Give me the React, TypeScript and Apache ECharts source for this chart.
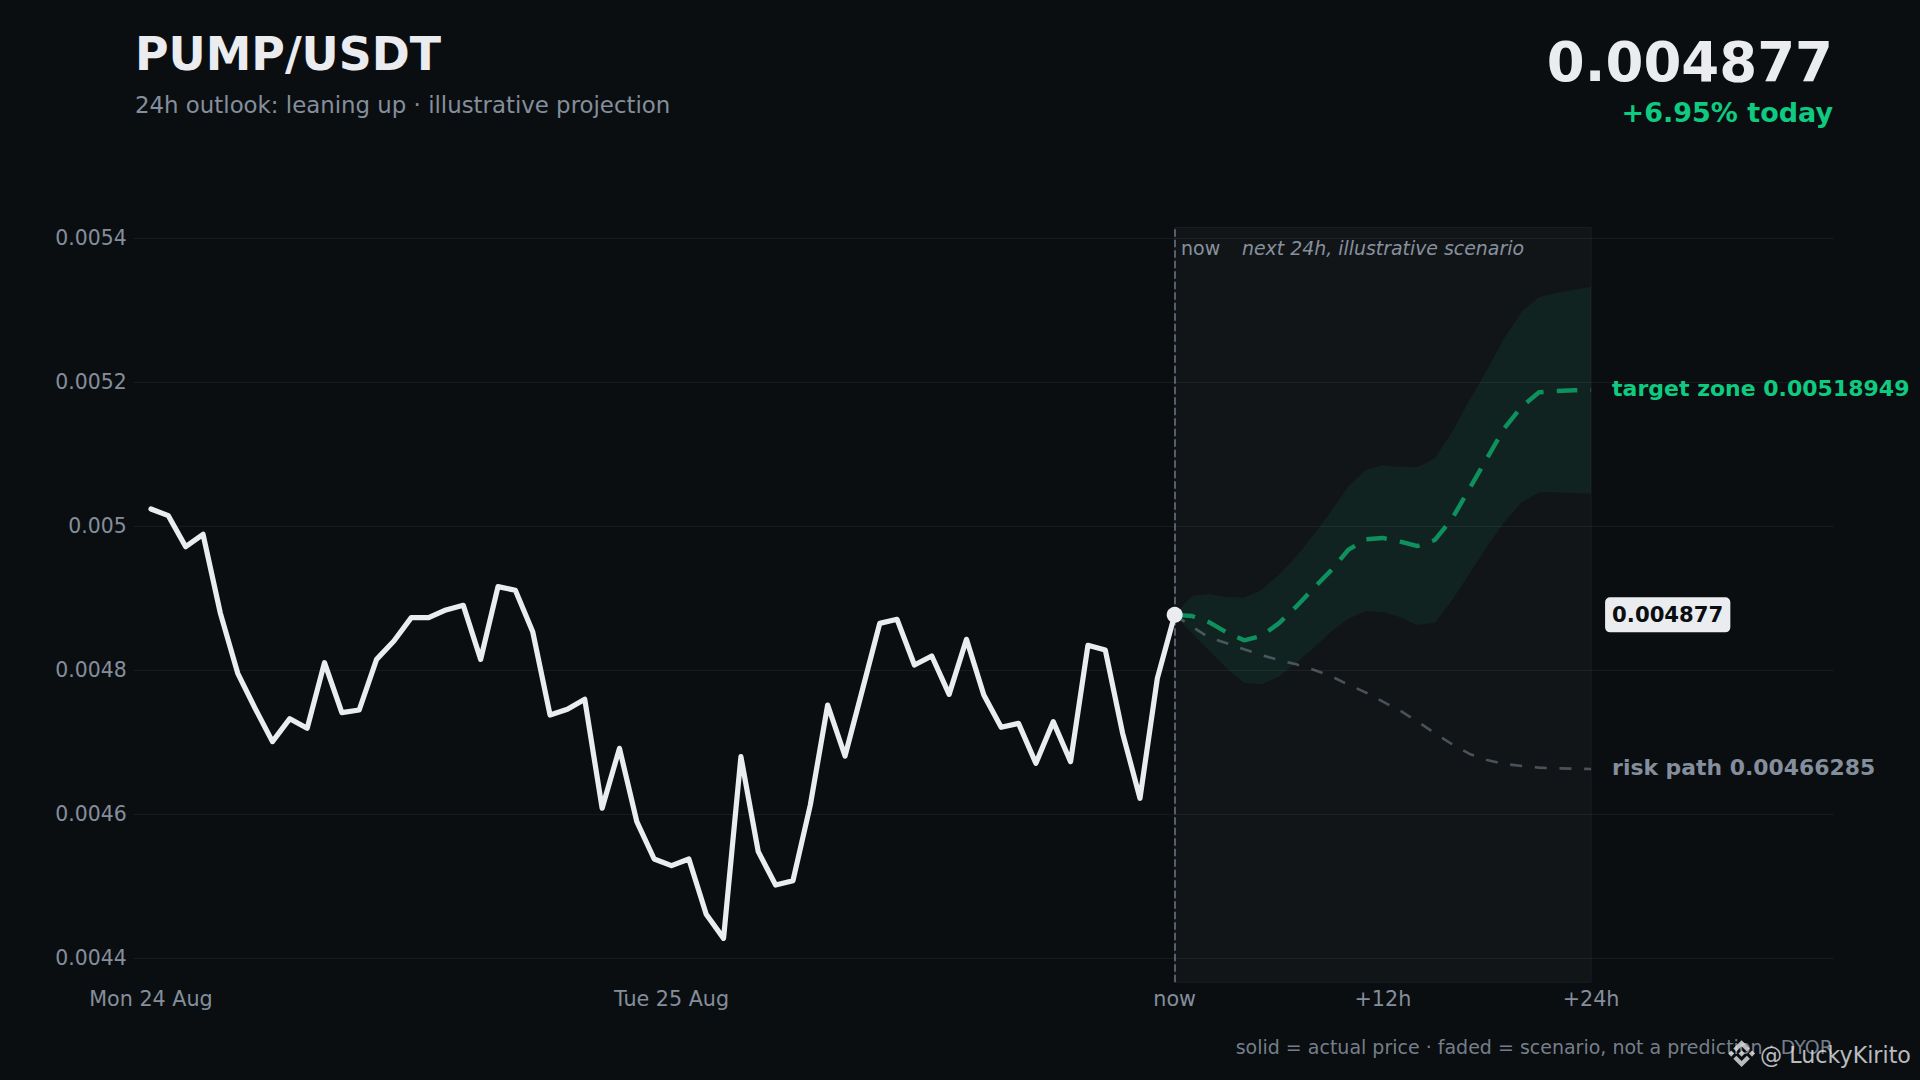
import React, { useEffect, useRef } from "react";
import * as echarts from "echarts";

const FONT = "'DejaVu Sans', sans-serif";
const BG = "#0b0e11";
const TEXT = "#eaecef";
const MUTED = "#848e9c";
const GREEN = "#0ecb81";

const history = [
  0.005024, 0.0050148, 0.0049717, 0.0049888, 0.0048791, 0.0047958, 0.0047472, 0.0047009, 0.0047328, 0.0047194,
  0.0048106, 0.0047412, 0.0047449, 0.0048152, 0.0048407, 0.0048731, 0.0048731, 0.0048838, 0.0048902, 0.0048152,
  0.0049162, 0.0049111, 0.0048537, 0.0047379, 0.0047458, 0.0047597, 0.0046085, 0.0046916, 0.0045898, 0.0045379,
  0.0045287, 0.0045379, 0.0044611, 0.0044277, 0.00468, 0.0045481, 0.0045018, 0.0045078, 0.0046129, 0.0047518,
  0.004681, 0.0047726, 0.0048652, 0.0048708, 0.0048074, 0.0048199, 0.0047666, 0.004843, 0.0047657, 0.0047208,
  0.0047263, 0.0046708, 0.0047287, 0.0046731, 0.0048347, 0.0048282, 0.0047125, 0.0046222, 0.0047888, 0.004877,
];
const bandUpper = [
  0.004877, 0.0049032, 0.004906, 0.0049014, 0.0049009, 0.0049115, 0.0049324, 0.0049578, 0.0049879, 0.0050203,
  0.0050551, 0.0050782, 0.0050847, 0.0050828, 0.0050824, 0.0050944, 0.0051314, 0.0051754, 0.0052171, 0.0052611,
  0.0052981, 0.005318, 0.005324, 0.0053282, 0.0053328,
];
const bandLower = [
  0.004877, 0.0048513, 0.0048268, 0.0048027, 0.0047828, 0.0047805, 0.0047912, 0.0048106, 0.0048305, 0.0048537,
  0.0048713, 0.0048824, 0.004881, 0.0048736, 0.0048629, 0.0048662, 0.0048976, 0.0049347, 0.0049717, 0.0050064,
  0.0050333, 0.0050472, 0.0050472, 0.0050463, 0.0050453,
];
const targetPath = [
  0.004877, 0.0048754, 0.0048666, 0.0048527, 0.0048416, 0.0048477, 0.0048652, 0.0048884, 0.0049138, 0.0049384,
  0.0049671, 0.0049819, 0.0049838, 0.0049787, 0.0049726, 0.004981, 0.0050111, 0.0050527, 0.0050944, 0.0051361,
  0.0051662, 0.0051861, 0.0051879, 0.0051889, 0.00518949,
];
const riskPath = [
  0.004877, 0.0048606, 0.0048453, 0.0048375, 0.0048291, 0.0048212, 0.0048143, 0.0048083, 0.0048009, 0.0047921,
  0.00478, 0.0047694, 0.0047564, 0.0047439, 0.0047287, 0.0047125, 0.0046972, 0.0046838, 0.0046754, 0.0046699,
  0.0046671, 0.0046648, 0.0046638, 0.0046634, 0.00466285,
];
const yTicks = [0.0044, 0.0046, 0.0048, 0.005, 0.0052, 0.0054];
const xTicks = [0, 30, 59, 71, 83];
const xTickLabels = ["Mon 24 Aug", "Tue 25 Aug", "now", "+12h", "+24h"];

const NOW = history.length - 1;
const END = NOW + targetPath.length - 1;
const Y_MIN = 0.00436667;
const Y_MAX = 0.00541528;
const fc = (a: number[]) => a.map((v, k) => [NOW + k, v]);

const BINANCE =
  "M38.73 53.2L63 28.93l24.28 24.28 14.12-14.12L63 0.69 24.6 39.09zM0.69 63l14.12-14.12L28.93 63 14.81 77.12zM38.73 72.8L63 97.07l24.28-24.28 14.13 14.11-38.41 38.41L24.6 86.91zM97.07 63l14.12-14.12L125.31 63l-14.12 14.12zM77.32 63L63 48.68 52.41 59.27l-1.22 1.22L48.68 63 63 77.32 77.32 63z";
echarts.graphic.registerShape("binanceLogo", echarts.graphic.extendPath(BINANCE as any, {} as any));

function txt(x: number, y: number, text: string, fontSize: number, fill: string, extra: any = {}) {
  return {
    type: "text",
    x,
    y,
    silent: true,
    style: { text, fontSize, fill, fontFamily: FONT, verticalAlign: "middle", ...extra },
  };
}

export default function App() {
  const ref = useRef<HTMLDivElement>(null);
  useEffect(() => {
    document.body.style.margin = "0";
    document.body.style.background = BG;
    const chart = echarts.init(ref.current!, null, { renderer: "svg" });
    chart.setOption({
      animation: false,
      backgroundColor: BG,
      textStyle: { fontFamily: FONT },
      grid: { left: 133.65, right: 86, top: 227.3, bottom: 97.7 },
      xAxis: {
        type: "value",
        min: -1,
        max: 97,
        axisLine: { show: false },
        axisTick: { show: false, customValues: xTicks },
        splitLine: { show: false },
        axisLabel: {
          customValues: xTicks,
          color: MUTED,
          fontSize: 20.7,
          fontFamily: FONT,
          margin: 6,
          hideOverlap: false,
          showMinLabel: true,
          showMaxLabel: true,
          formatter: (v: number) => xTickLabels[xTicks.indexOf(v)] ?? "",
        },
      },
      yAxis: {
        type: "value",
        min: Y_MIN,
        max: Y_MAX,
        axisLine: { show: false },
        axisTick: { show: false, customValues: yTicks },
        splitLine: { show: true, lineStyle: { color: "rgba(234,236,239,0.06)", width: 1 } },
        axisLabel: {
          customValues: yTicks,
          color: MUTED,
          fontSize: 20.4,
          fontFamily: FONT,
          margin: 7,
          padding: [4, 0, 0, 0],
          formatter: (v: number) => String(v),
        },
      },
      series: [
        {
          type: "custom",
          name: "band",
          data: bandUpper.map((v, k) => [NOW + k, bandLower[k], v]),
          encode: { x: 0, y: [1, 2] },
          clip: false,
          silent: true,
          z: 2,
          renderItem: (params: any, api: any) => {
            if (params.dataIndex !== 0) return null;
            const up = bandUpper.map((v, k) => api.coord([NOW + k, v]));
            const lo = bandLower.map((v, k) => api.coord([NOW + k, v])).reverse();
            return {
              type: "polygon",
              shape: { points: up.concat(lo) },
              style: { fill: GREEN, opacity: 0.08 },
            };
          },
          markArea: {
            silent: true,
            z: 1,
            itemStyle: { color: "rgba(234,236,239,0.035)", borderColor: "rgba(234,236,239,0.06)", borderWidth: 1 },
            data: [[{ xAxis: NOW, yAxis: Y_MIN }, { xAxis: END, yAxis: Y_MAX }]],
          },
          markLine: {
            silent: true,
            symbol: "none",
            label: { show: false },
            lineStyle: { color: "rgba(132,142,156,0.8)", width: 1.5, type: [7.5, 3] },
            data: [{ xAxis: NOW }],
          },
        },
        {
          type: "line",
          name: "risk path",
          data: fc(riskPath),
          symbol: "none",
          lineStyle: { color: MUTED, opacity: 0.5, width: 2.6, type: [12, 12.7] },
          z: 3,
          endLabel: {
            show: true,
            distance: 21,
            offset: [0, -2],
            color: MUTED,
            fontSize: 21.9,
            fontWeight: "bold",
            fontFamily: FONT,
            formatter: () => "risk path " + riskPath[riskPath.length - 1],
          },
        },
        {
          type: "line",
          name: "target zone",
          data: fc(targetPath),
          symbol: "none",
          lineStyle: { color: GREEN, opacity: 0.65, width: 4.4, type: [20.5, 13.3] },
          z: 4,
          endLabel: {
            show: true,
            distance: 21,
            offset: [0, -1],
            color: GREEN,
            fontSize: 22,
            fontWeight: "bold",
            fontFamily: FONT,
            formatter: () => "target zone " + targetPath[targetPath.length - 1],
          },
        },
        {
          type: "line",
          name: "price",
          data: history.map((v, i) => [i, v]),
          symbol: "none",
          lineStyle: { color: TEXT, width: 5.2, join: "round", cap: "round" },
          z: 5,
          markPoint: {
            silent: true,
            z: 6,
            data: [
              { coord: [NOW, history[NOW]], symbol: "circle", symbolSize: 16, itemStyle: { color: TEXT }, label: { show: false } },
              {
                coord: [END, history[NOW]],
                symbol: "circle",
                symbolSize: 0,
                label: {
                  show: true,
                  position: "right",
                  distance: 14,
                  formatter: String(history[NOW]),
                  color: BG,
                  fontSize: 21.2,
                  fontWeight: "bold",
                  fontFamily: FONT,
                  backgroundColor: TEXT,
                  borderRadius: 5,
                  padding: [7, 7, 7, 7],
                },
              },
            ],
          },
        },
      ],
      graphic: [
        txt(135, 54, "PUMP/USDT", 45.8, TEXT, { fontWeight: "bold" }),
        txt(135, 105, "24h outlook: leaning up · illustrative projection", 22.87, MUTED),
        txt(1833, 62, "0.004877", 54.5, TEXT, { fontWeight: "bold", textAlign: "right" }),
        txt(1833, 112, "+6.95% today", 27, GREEN, { fontWeight: "bold", textAlign: "right" }),
        txt(1181, 248, "now", 19, MUTED),
        txt(1242, 248, "next 24h, illustrative scenario", 18.9, MUTED, { fontStyle: "italic" }),
        txt(1833, 1047, "solid = actual price · faded = scenario, not a prediction · DYOR", 19, MUTED, { textAlign: "right", opacity: 0.9 }),
        {
          type: "binanceLogo",
          x: 1728,
          y: 1040,
          scaleX: 0.216,
          scaleY: 0.216,
          silent: true,
          z: 10,
          style: { fill: "rgba(234,236,239,0.78)" },
        },
        { ...txt(1760, 1055, "@ LuckyKirito", 22.2, "rgba(234,236,239,0.78)"), z: 10 },
      ],
    });
    return () => chart.dispose();
  }, []);
  return <div ref={ref} style={{ position: "absolute", left: 0, top: 0, width: 1920, height: 1080 }} />;
}
